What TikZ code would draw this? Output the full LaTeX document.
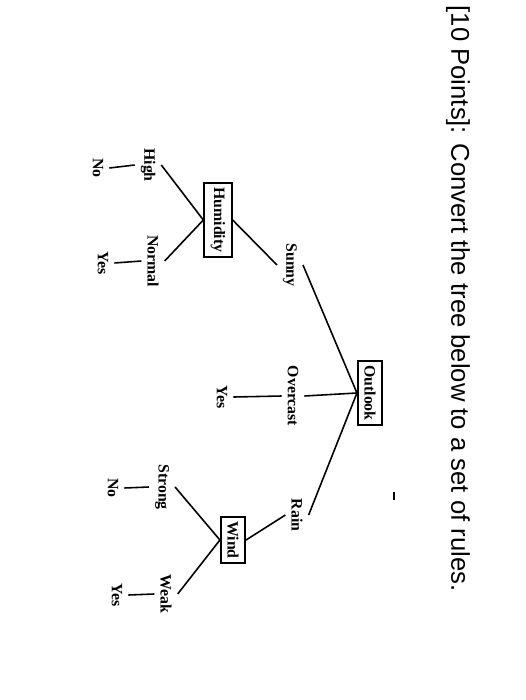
\documentclass[tikz,border=0pt]{standalone}
\usepackage{fontspec}
\setmainfont{Liberation Serif}
\newfontfamily\titlefont{Liberation Sans}
\tikzset{%
    attr/.style={%
        draw, line width=0.9pt, inner xsep=2.5pt, inner ysep=3.8pt,
        font=\bfseries\fontsize{9}{10}\selectfont
    },
    val/.style={%
        inner sep=3pt, font=\bfseries\fontsize{9}{10}\selectfont
    }
}
\begin{document}
\begin{tikzpicture}[rotate=-90, transform shape, line width=0.9pt]
    \useasboundingbox (0,0) rectangle (14,10.5);

    \node[anchor=west, inner sep=0pt,
        font=\titlefont\fontsize{14.6}{17}\selectfont] (title) at (0.1,9.16)
        {[10 Points]: Convert the tree below to a set of rules.};

    \node[attr] (outlook) at (7.86,7.40) {Outlook};
    \node[val] (sunny) at (5.30,5.80) {Sunny};
    \node[val] (overcast) at (7.92,5.86) {Overcast};
    \node[val] (rain) at (10.30,5.94) {Rain};

    \node[attr] (humidity) at (4.40,4.36) {Humidity};
    \node[val] (overcast-yes) at (7.94,4.44) {Yes};
    \node[attr] (wind) at (10.80,4.66) {Wind};

    \node[val] (high) at (3.30,2.96) {High};
    \node[val] (normal) at (5.22,3.06) {Normal};
    \node[val] (strong) at (9.74,3.24) {Strong};
    \node[val] (weak) at (11.88,3.32) {Weak};

    \node[val] (high-no) at (3.36,1.96) {No};
    \node[val] (normal-yes) at (5.26,2.06) {Yes};
    \node[val] (strong-no) at (9.76,2.26) {No};
    \node[val] (weak-yes) at (11.90,2.34) {Yes};

    \draw
        (outlook.south) -- (sunny.north)
        (outlook.south) -- (overcast.north)
        (outlook.south) -- (rain.north)
        (sunny.south) -- (humidity.north)
        (overcast.south) -- (overcast-yes.north)
        (rain.south) -- (wind.north)
        (humidity.south) -- (high.north)
        (humidity.south) -- (normal.north)
        (wind.south) -- (strong.north)
        (wind.south) -- (weak.north)
        (high.south) -- (high-no.north)
        (normal.south) -- (normal-yes.north)
        (strong.south) -- (strong-no.north)
        (weak.south) -- (weak-yes.north);

    % stray pen mark
    \draw[line width=1.4pt] (9.84,7.88) -- (10.0,7.88);
\end{tikzpicture}
\end{document}
